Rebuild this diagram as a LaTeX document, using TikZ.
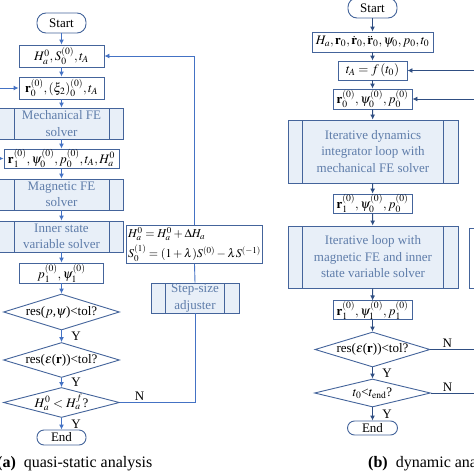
\documentclass[tikz,border=0pt]{standalone}
\usepackage{mathptmx}
\usepackage{fontspec}
\setmainfont{Liberation Serif}
\usetikzlibrary{shapes.geometric,arrows.meta}
\definecolor{bordc}{RGB}{68,100,155}
\definecolor{procfill}{RGB}{232,239,248}
\definecolor{proctext}{RGB}{95,125,170}
\definecolor{arrA}{RGB}{68,114,196}
\definecolor{arrB}{RGB}{47,78,130}
\newcommand{\fsz}{\fontsize{13}{16.5}\selectfont}
\tikzset{
  sz/.style 2 args={minimum width=#1pt,minimum height=#2pt},
  box/.style={draw=bordc,line width=0.9pt,fill=white,inner sep=0pt,font=\fsz,align=center},
  proc/.style={box,fill=procfill,text=proctext,
    path picture={\draw[bordc,line width=0.9pt]
      ([xshift=14.5pt]path picture bounding box.north west) -- ([xshift=14.5pt]path picture bounding box.south west)
      ([xshift=-14.5pt]path picture bounding box.north east) -- ([xshift=-14.5pt]path picture bounding box.south east);}},
  term/.style={box,rounded corners=#1},
  dia/.style={diamond,draw=bordc,line width=0.9pt,fill=white,inner sep=0pt,label={[font=\fsz]center:#1}},
  arra/.style={draw=arrA,line width=0.9pt,-{Latex[length=5pt,width=5pt]}},
  arrb/.style={draw=arrB,line width=0.9pt,-{Latex[length=5pt,width=5pt]}},
  lna/.style={draw=arrA,line width=0.9pt},
  lnb/.style={draw=arrB,line width=0.9pt},
  yn/.style={font=\fsz,inner sep=1.5pt},
  ylab/.style={yn,right,xshift=8pt},
  captext/.style={font=\fontsize{16}{19}\selectfont,inner sep=0pt,anchor=base west}
}
\begin{document}
\begin{tikzpicture}[x=1pt,y=-1pt]
\useasboundingbox (0,0) rectangle (474,474);
\clip (0,0) rectangle (474,474);
% ---------- (a) quasi-static ----------
\node[term=9pt,sz={49}{20}] (start) at (61.5,23) {Start};
\node[box,sz={85}{22}] (H) at (61.5,56) {$H_a^0, S_0^{(0)}, t_A$};
\node[box,sz={85}{22}] (r0) at (61.5,88) {$\mathbf{r}_0^{(0)}, (\xi_2)_0^{(0)}, t_A$};
\node[proc,sz={124}{31}] (mech) at (61.5,123.5) {Mechanical FE\\solver};
\node[box,sz={115}{19}] (r1) at (61.5,158.5) {$\mathbf{r}_1^{(0)}, \psi_0^{(0)}, p_0^{(0)}, t_A, H_a^0$};
\node[proc,sz={124}{31}] (mag) at (61.5,194.5) {Magnetic FE\\solver};
\node[proc,sz={124}{31}] (inner) at (61.5,236.5) {Inner state\\variable solver};
\node[box,sz={84}{20}] (p1) at (61.5,273) {$p_1^{(0)}, \psi_1^{(0)}$};
\node[dia={res($p$,$\psi$)<tol?},sz={116}{36}] (d1) at (61.5,312) {};
\node[dia={res($\varepsilon$($\mathbf{r}$))<tol?},sz={116}{35}] (d2) at (61.5,360) {};
\node[dia={$H_a^0 < H_a^f$?},sz={116}{30}] (d3) at (61.5,402.5) {};
\node[term=7pt,sz={49}{15}] (end) at (61.5,437.5) {End};
\node[box,sz={135}{37},align=left,inner sep=2pt,font=\fontsize{12}{14}\selectfont] (eq) at (194.5,244.5)
  {$H_a^0 = H_a^0 + \Delta H_a$\\[3pt]$S_0^{(1)} = (1+\lambda)S^{(0)} - \lambda S^{(-1)}$};
\node[proc,sz={88}{30}] (step) at (195,298) {Step-size\\adjuster};
\coordinate (inA1) at (-6,88);
\coordinate (inA2) at (-6,158.5);

\draw[arra] (start) -- (H);
\draw[arra] (H) -- (r0);
\draw[arra] (r0) -- (mech);
\draw[arra] (mech) -- (r1);
\draw[arra] (r1) -- (mag);
\draw[arra] (mag) -- (inner);
\draw[arra] (inner) -- (p1);
\draw[arra] (p1) -- (d1);
\draw[arra] (d1) -- node[ylab,pos=0.5]{Y} (d2);
\draw[arra] (d2) -- node[ylab,pos=0.5]{Y} (d3);
\draw[arra] (d3) -- node[ylab,pos=0.5]{Y} (end);
\draw[arra] (inA1) -- (r0.west);
\draw[arra] (inA2) -- (r1.west);
\draw[lna] (d3.east) -| node[yn,above,pos=0.13]{N} (step.south);
\draw[lna] (step.north) -- (eq.south);
\draw[arra] (eq.north) |- (H.east);
\node[captext] (capa) at (-3,467) {\textbf{(a)}\ \ quasi-static analysis};

% ---------- (b) dynamic ----------
\node[term=9pt,sz={49}{20}] (startb) at (372.5,8) {Start};
\node[box,sz={121}{20}] (Hb) at (372.5,42) {$H_a, \mathbf{r}_0, \dot{\mathbf{r}}_0, \ddot{\mathbf{r}}_0, \psi_0, p_0, t_0$};
\node[box,sz={69}{19}] (tA) at (372.5,70.5) {$t_A = f\left(t_0\right)$};
\node[box,sz={79}{20}] (r0b) at (372.5,99) {$\mathbf{r}_0^{(0)}, \psi_0^{(0)}, p_0^{(0)}$};
\node[proc,sz={170}{63}] (dyn) at (373,151.5) {Iterative dynamics\\integrator loop with\\mechanical FE solver};
\node[box,sz={79}{19}] (r1b) at (372.5,203.5) {$\mathbf{r}_1^{(0)}, \psi_0^{(0)}, p_0^{(0)}$};
\node[proc,sz={170}{62}] (magb) at (373,257) {Iterative loop with\\magnetic FE and inner\\state variable solver};
\node[box,sz={79}{18}] (r1c) at (372.5,310) {$\mathbf{r}_1^{(0)}, \psi_1^{(0)}, p_1^{(0)}$};
\node[dia={res($\varepsilon$($\mathbf{r}$))<tol?},sz={115}{35}] (db1) at (372.5,349.5) {};
\node[dia={$t_0$<$t_{\mathrm{end}}$?},sz={116}{28}] (db2) at (372.5,393) {};
\node[term=7pt,sz={50}{14}] (endb) at (372.5,428) {End};
\node[box,sz={92}{60}] (cutbox) at (515,258) {};
\coordinate (inB1) at (480,70.5);
\coordinate (inB2) at (480,99);
\coordinate (outB1) at (480,349.5);
\coordinate (outB2) at (480,393);

\draw[arrb] (startb) -- (Hb);
\draw[arrb] (Hb) -- (tA);
\draw[arrb] (tA) -- (r0b);
\draw[arrb] (r0b) -- (dyn);
\draw[arrb] (dyn) -- (r1b);
\draw[arrb] (r1b) -- (magb);
\draw[arrb] (magb) -- (r1c);
\draw[arrb] (r1c) -- (db1);
\draw[arrb] (db1) -- node[ylab,pos=0.5]{Y} (db2);
\draw[arrb] (db2) -- node[ylab,pos=0.5]{Y} (endb);
\draw[arrb] (inB1) -- (tA.east);
\draw[arrb] (inB2) -- (r0b.east);
\draw[lnb] (db1.east) -- node[yn,above,pos=0.34]{N} (outB1);
\draw[lnb] (db2.east) -- node[yn,above,pos=0.34]{N} (outB2);
\node[captext] (capb) at (368,467) {\textbf{(b)}\ \ dynamic analysis};
\end{tikzpicture}
\end{document}
